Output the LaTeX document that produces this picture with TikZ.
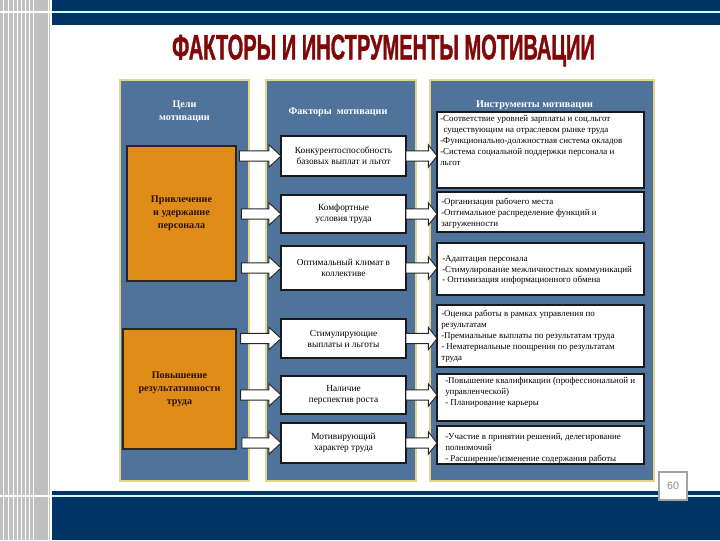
\documentclass[tikz,border=0pt]{standalone}
\usepackage{fontspec}
\setmainfont{Liberation Serif}
\newfontfamily\titlefont{Liberation Sans}[FakeBold=1.5]
\newfontfamily\pagefont{Liberation Sans}
\usetikzlibrary{calc}
\definecolor{navy}{HTML}{003366}
\definecolor{colblue}{HTML}{50739B}
\definecolor{orangebox}{HTML}{E08C18}
\definecolor{colborder}{HTML}{E2D68A}
\definecolor{titlered}{HTML}{800808}
\definecolor{browntext}{HTML}{2B1205}
\definecolor{stripe}{HTML}{C0C0C0}
\definecolor{cyanline}{HTML}{CCFFFF}
\definecolor{pagegray}{HTML}{8C8C8C}
\newcommand{\blockarr}[3]{%
  \filldraw[arrowbox] let \p1=(#1), \p2=(#2) in
   (\x1,\y1+3.9pt) -- (\x2-#3,\y1+3.9pt) -- (\x2-#3,\y1+8.4pt) -- (\x2,\y1)
   -- (\x2-#3,\y1-8.4pt) -- (\x2-#3,\y1-3.9pt) -- (\x1,\y1-3.9pt) -- cycle;}
\tikzset{
  column/.style={fill=colblue, draw=colborder, line width=1.1pt, inner sep=0, outer sep=0, minimum height=300.75pt},
  obox/.style={fill=orangebox, draw=black!85, line width=0.8pt, inner sep=0, outer sep=0,
     text=browntext, font=\bfseries\fontsize{7.6pt}{9.6pt}\selectfont, align=center},
  wbox/.style={fill=white, draw=black!90, line width=0.8pt, inner sep=0, outer sep=0},
  fbox/.style={wbox, minimum width=93.75pt, font=\fontsize{7pt}{8.3pt}\selectfont, align=center},
  ibox/.style={wbox, minimum width=155.25pt},
  itext/.style={anchor=west, inner sep=0, align=left, font=\fontsize{6.7pt}{8.2pt}\selectfont},
  head/.style={text=white, font=\bfseries\fontsize{7.6pt}{9.6pt}\selectfont, align=center, inner sep=0},
  arrowbox/.style={fill=white, draw=black!85, line width=0.7pt, line join=miter},
}
\begin{document}
\begin{tikzpicture}[x=0.75pt,y=-0.75pt]
\useasboundingbox (0,0) rectangle (720,540);
\fill[white] (0,0) rectangle (720,540);
% left gray stripe
\fill[stripe] (0,0) rectangle (50,540);
\foreach \xx in {3,8,13,17,21,25,29,33}
  \draw[white, line width=0.6pt] (\xx,0) -- (\xx,540);
\draw[white, line width=0.6pt] (48,0) -- (48,540);
\draw[white, line width=1.5pt] (0,11.5) -- (50,11.5);
\draw[white, line width=1.5pt] (0,496) -- (50,496);
% top band
\fill[navy] (52,0) rectangle (720,25);
\fill[cyanline] (52,10.5) rectangle (720,12.8);
% bottom band
\fill[navy] (52,491) rectangle (720,540);
\fill[white!85!cyan] (52,494.5) rectangle (720,497.3);
% title
\node[text=titlered, inner sep=0] (title) at (383.5,50.5)
  {\resizebox{317pt}{18.5pt}{\titlefont\bfseries ФАКТОРЫ И ИНСТРУМЕНТЫ МОТИВАЦИИ}};
% columns
\node[column, minimum width=96.75pt] (col1) at (184.5,280.5) {};
\node[column, minimum width=112.5pt] (col2) at (341,280.5) {};
\node[column, minimum width=168pt] (col3) at (542,280.5) {};
% headers
\node[head] (h1) at (184.5,111.5) {Цели\\мотивации};
\node[head] (h2) at (338,112) {Факторы \ мотивации};
\node[head] (h3) at (534.5,105) {Инструменты мотивации};
% goals
\node[obox, minimum width=81.75pt, minimum height=101.25pt] (o1) at (181.5,213.5)
  {Привлечение\\и удержание\\персонала};
\node[obox, minimum width=84.75pt, minimum height=90pt] (o2) at (179.5,389)
  {Повышение\\результативности\\труда};
% factors
\node[fbox, minimum height=30pt] (b1) at (343.5,156) {Конкурентоспособность\\базовых выплат и льгот};
\node[fbox, minimum height=28.5pt] (b2) at (343.5,214) {Комфортные\\условия труда};
\node[fbox, minimum height=33pt] (b3) at (343.5,268) {Оптимальный климат в\\коллективе};
\node[fbox, minimum height=29.25pt] (b4) at (343.5,338.5) {Стимулирующие\\выплаты и льготы};
\node[fbox, minimum height=28.5pt] (b5) at (343.5,395) {Наличие\\перспектив роста};
\node[fbox, minimum height=30pt] (b6) at (343.5,443) {Мотивирующий\\характер труда};
% instruments
\node[ibox, minimum height=57pt] (c1) at (540.5,150) {};
\node[ibox, minimum height=30pt] (c2) at (540.5,212) {};
\node[ibox, minimum height=39pt] (c3) at (540.5,269) {};
\node[ibox, minimum height=46.5pt] (c4) at (540.5,336) {};
\node[ibox, minimum height=35.25pt] (c5) at (540.5,397.5) {};
\node[ibox, minimum height=28.5pt] (c6) at (540.5,445) {};
\node[itext] (c1t) at (440,140.5) {-Соответствие уровней зарплаты и соц.льгот\\
  \hspace*{2.5pt}существующим на отраслевом рынке труда\\
  -Функционально-должностная система окладов\\
  -Система социальной поддержки персонала и\\
  льгот};
\node[itext] (c2t) at (441,213) {-Организация рабочего места\\
  -Оптимальное распределение функций и\\
  загруженности};
\node[itext] (c3t) at (442,270) {-Адаптация персонала\\
  -Стимулирование межличностных коммуникаций\\
  - Оптимизация информационного обмена};
\node[itext] (c4t) at (441,336) {-Оценка работы в рамках управления по\\
  результатам\\
  -Премиальные выплаты по результатам труда\\
  - Нематериальные поощрения по результатам\\
  труда};
\node[itext] (c5t) at (445,392.5) {-Повышение квалификации (профессиональной и\\
  управленческой)\\
  - Планирование карьеры};
\node[itext] (c6t) at (445,448.5) {-Участие в принятии решений, делегирование\\
  полномочий\\
  - Расширение/изменение содержания работы};
% arrow tails
\coordinate (t1) at ($(o1.east |- b1.west)+(2.5pt,0)$);
\coordinate (t2) at ($(o1.east |- b2.west)+(4pt,0)$);
\coordinate (t3) at ($(o1.east |- b3.west)+(4pt,0)$);
\coordinate (t4) at ($(o2.east |- b4.west)+(3.5pt,0)$);
\coordinate (t5) at ($(o2.east |- b5.west)+(3.5pt,0)$);
\coordinate (t6) at ($(o2.east |- b6.west)+(4.5pt,0)$);
\foreach \i in {1,...,6} {
  \blockarr{t\i}{b\i.west}{9pt}
  \blockarr{b\i.east}{c\i.west}{6.5pt}
}
% page number
\node[draw=pagegray!80, fill=white, line width=0.8pt, minimum width=21pt, minimum height=21pt,
  inner sep=0, text=pagegray, font=\pagefont\fontsize{8pt}{9pt}\selectfont] (pg) at (673,486) {60};
\end{tikzpicture}
\end{document}
